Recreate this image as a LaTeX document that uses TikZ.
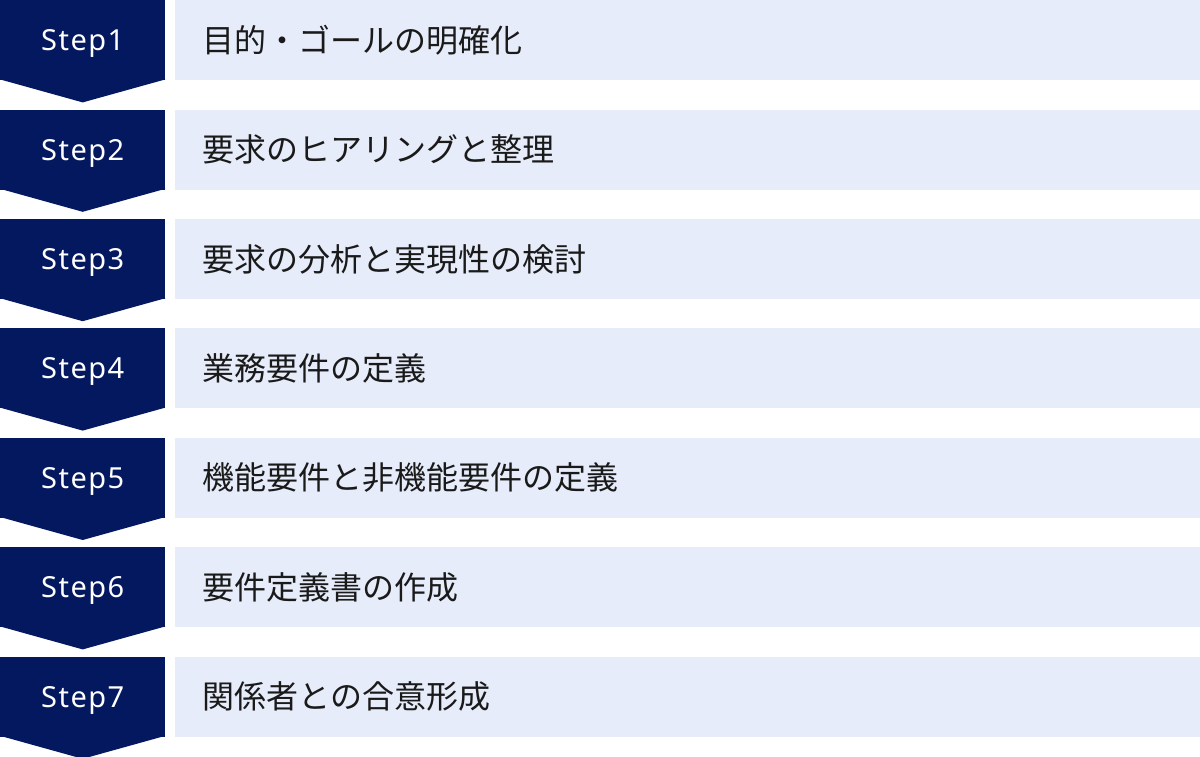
\documentclass[tikz,border=0pt]{standalone}
\usepackage{fontspec}
\setmainfont{Noto Sans CJK JP}
\newfontfamily\stepfont[LetterSpace=5]{Noto Sans}
\usetikzlibrary{positioning}
\definecolor{navy}{HTML}{04185F}
\definecolor{paleblue}{HTML}{E6ECF9}
\definecolor{ink}{HTML}{1A1A1A}
\tikzset{
  stepbox/.style={fill=navy, text=white, minimum width=165pt, minimum height=80pt, inner sep=0pt, text depth=0pt, font=\stepfont\fontsize{29}{34}\selectfont},
  taskbox/.style={fill=paleblue, text=ink, text width=970pt, inner xsep=28pt, inner ysep=0pt, minimum height=80pt, align=left, font=\fontsize{32}{38}\selectfont}
}
\newcommand\steptip[1]{\fill[navy] ([yshift=1pt]#1.south west) -- ([yshift=1pt]#1.south east) -- ([yshift=-22pt]#1.south) -- cycle;}
\begin{document}
\begin{tikzpicture}[x=1pt, y=-1pt, node distance=29pt]
  \useasboundingbox (0,0) rectangle (1200,756);
  \node[stepbox, anchor=north west] (step1) at (0,0) {Step1};
  \node[stepbox] (step2) [below=of step1] {Step2};
  \node[stepbox] (step3) [below=of step2] {Step3};
  \node[stepbox] (step4) [below=of step3] {Step4};
  \node[stepbox] (step5) [below=of step4] {Step5};
  \node[stepbox] (step6) [below=of step5] {Step6};
  \node[stepbox] (step7) [below=of step6] {Step7};
  % arrow points under each step
  \steptip{step1}
  \steptip{step2}
  \steptip{step3}
  \steptip{step4}
  \steptip{step5}
  \steptip{step6}
  \steptip{step7}
  \node[taskbox] (task1) [right=9pt of step1] {目的・ゴールの明確化};
  \node[taskbox] (task2) [right=9pt of step2] {要求のヒアリングと整理};
  \node[taskbox] (task3) [right=9pt of step3] {要求の分析と実現性の検討};
  \node[taskbox] (task4) [right=9pt of step4] {業務要件の定義};
  \node[taskbox] (task5) [right=9pt of step5] {機能要件と非機能要件の定義};
  \node[taskbox] (task6) [right=9pt of step6] {要件定義書の作成};
  \node[taskbox] (task7) [right=9pt of step7] {関係者との合意形成};
\end{tikzpicture}
\end{document}
